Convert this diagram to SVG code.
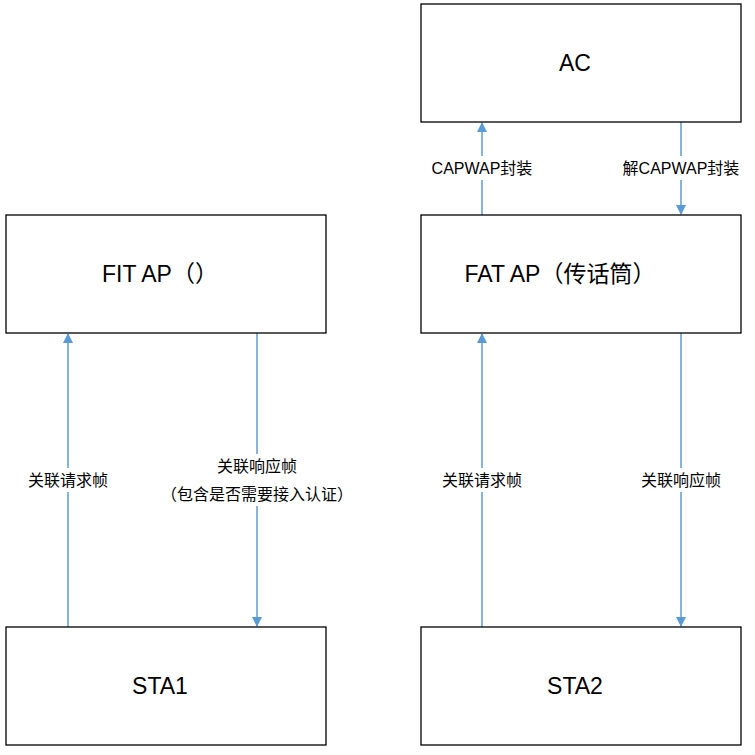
<svg xmlns="http://www.w3.org/2000/svg" width="755" height="755" viewBox="0 0 755 755">
<style>
.box{fill:#fff;stroke:#000;stroke-width:1.3}
.t{font-family:"Liberation Sans","Noto Sans CJK SC",sans-serif;font-size:23px;text-anchor:middle;dominant-baseline:central}
.l{font-family:"Liberation Sans","Noto Sans CJK SC",sans-serif;font-size:16px;text-anchor:middle;dominant-baseline:central}
.c{stroke:#5b9bd5;stroke-width:1.5;fill:none;marker-end:url(#a)}
.bg{fill:#fff}
</style>
<defs><marker id="a" markerWidth="10" markerHeight="10" refX="9" refY="5" orient="auto" markerUnits="userSpaceOnUse"><path d="M0,0 L10,5 L0,10 z" fill="#5b9bd5"/></marker></defs>
<rect width="755" height="755" fill="#fff"/>
<g id="connectors">
<line class="c" x1="68" y1="627" x2="68" y2="334"/>
<line class="c" x1="257" y1="333" x2="257" y2="626"/>
<line class="c" x1="482" y1="627" x2="482" y2="334"/>
<line class="c" x1="681" y1="333" x2="681" y2="626"/>
<line class="c" x1="482" y1="215" x2="482" y2="123"/>
<line class="c" x1="681" y1="122" x2="681" y2="214"/>
<rect class="bg" x="18" y="468" width="100" height="24"/>
<text class="l" x="68" y="480">关联请求帧</text>
<rect class="bg" x="140" y="454" width="234" height="52"/>
<text class="l" x="257" y="466">关联响应帧</text>
<text class="l" x="257" y="494">（包含是否需要接入认证）</text>
<rect class="bg" x="432" y="468" width="100" height="24"/>
<text class="l" x="482" y="480">关联请求帧</text>
<rect class="bg" x="631" y="468" width="100" height="24"/>
<text class="l" x="681" y="480">关联响应帧</text>
<rect class="bg" x="422" y="156" width="120" height="24"/>
<text class="l" x="482" y="168">CAPWAP封装</text>
<rect class="bg" x="614" y="156" width="134" height="24"/>
<text class="l" x="681" y="168">解CAPWAP封装</text>
</g>
<g id="ac"><rect class="box" x="421" y="4" width="320" height="118"/><text class="t" x="575" y="63">AC</text></g>
<g id="fit"><rect class="box" x="6" y="215" width="320" height="118"/><text class="t" x="160" y="274">FIT AP（）</text></g>
<g id="fat"><rect class="box" x="421" y="215" width="320" height="118"/><text class="t" x="560" y="274">FAT AP（传话筒）</text></g>
<g id="sta1"><rect class="box" x="6" y="627" width="320" height="118"/><text class="t" x="160" y="686">STA1</text></g>
<g id="sta2"><rect class="box" x="421" y="627" width="320" height="118"/><text class="t" x="575" y="686">STA2</text></g>
</svg>
